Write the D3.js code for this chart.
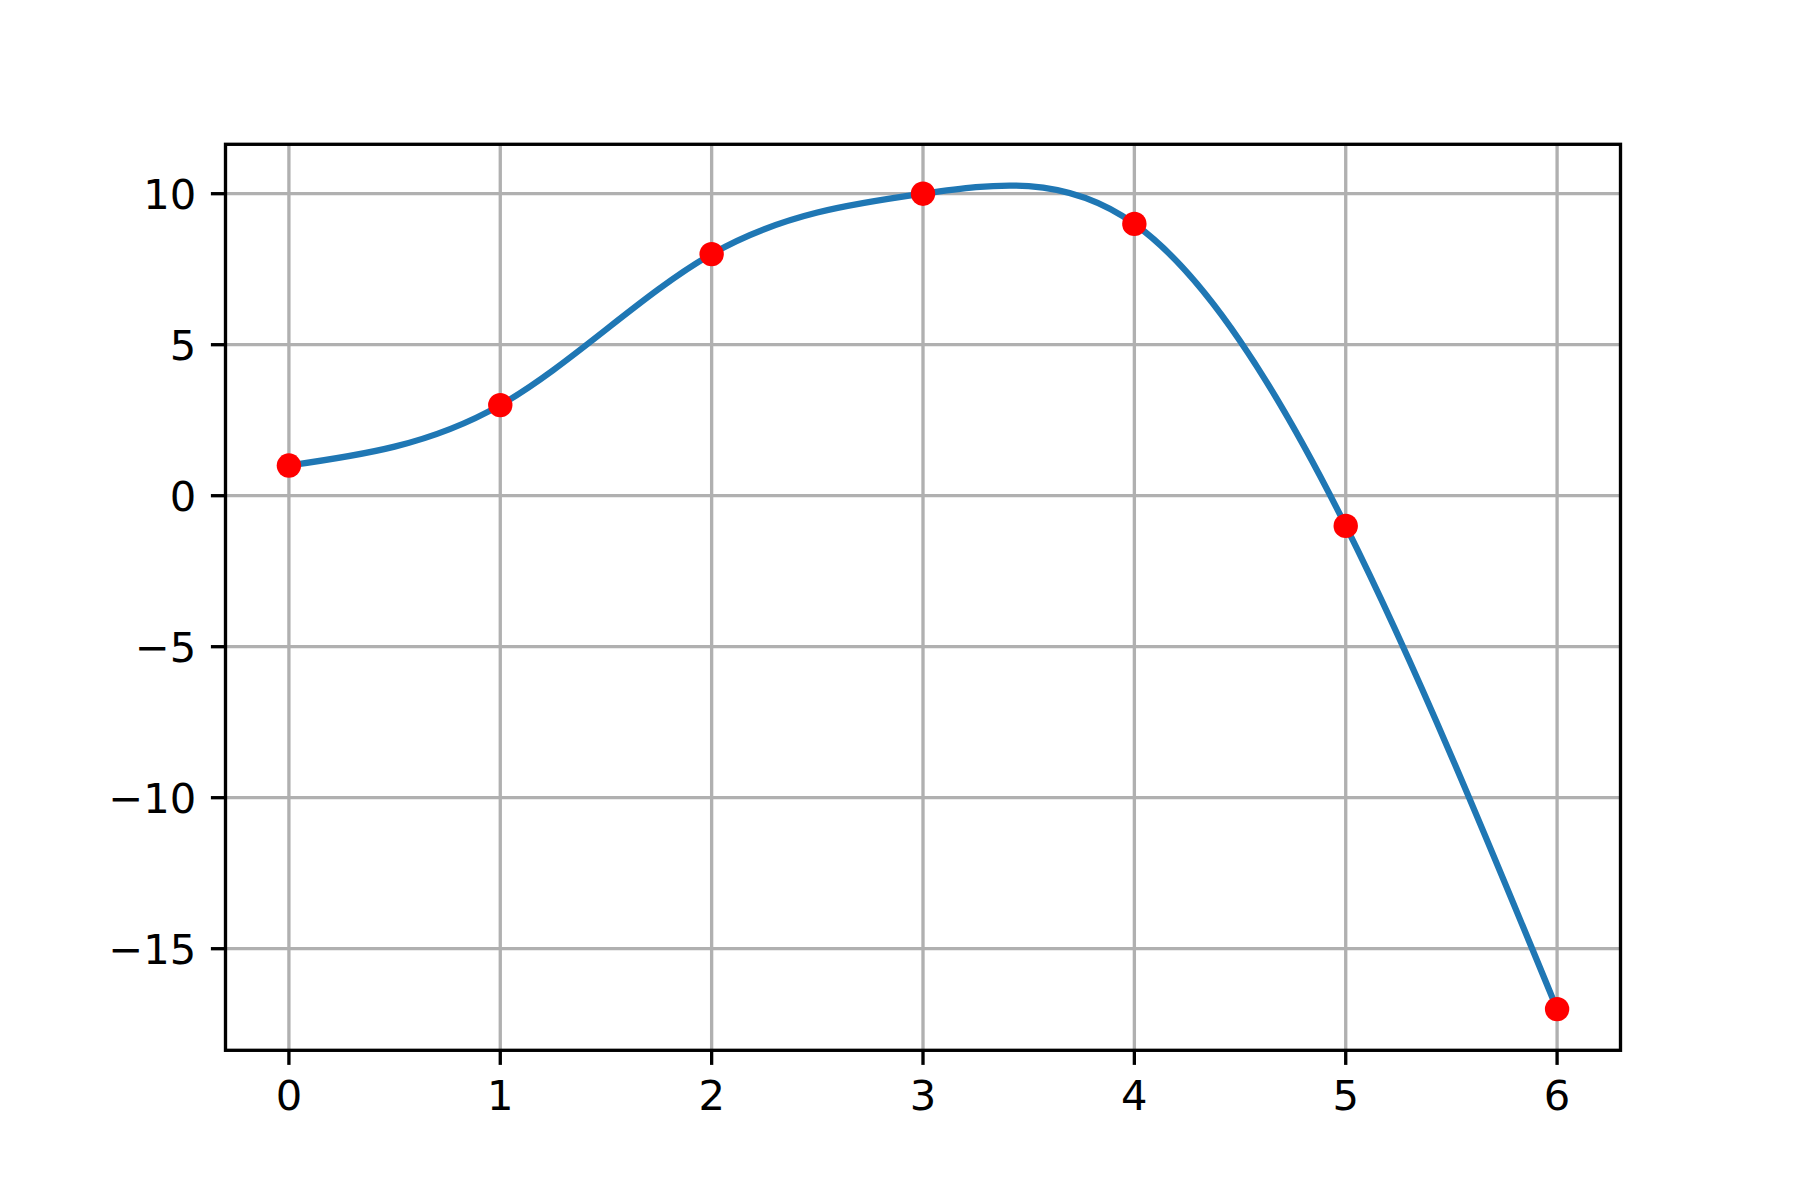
<!DOCTYPE html>
<html>
<head>
<meta charset="utf-8">
<script src="https://cdn.jsdelivr.net/npm/d3@7"></script>
<style>
  html, body { margin: 0; padding: 0; background: #fff; }
  svg { display: block; }
  text { font-family: "DejaVu Sans", sans-serif; }
</style>
</head>
<body>
<svg id="chart" width="1800" height="1200"></svg>
<script>
// Data
const xValues = [0, 1, 2, 3, 4, 5, 6];
const yValues = [1, 3, 8, 10, 9, -1, -17];
const xTicks = [0, 1, 2, 3, 4, 5, 6];
const yTicks = [-15, -10, -5, 0, 5, 10];
const xLimits = [-0.3, 6.3];
const yLimits = [-18.364, 11.636];

(function () {
const W = 1800, H = 1200;
const pLeft = 225.5, pRight = 1620.5, pTop = 144.3, pBottom = 1050.3;

const svg = d3.select("#chart");
svg.append("rect").attr("width", W).attr("height", H).attr("fill", "#fff");

const x = d3.scaleLinear().domain(xLimits).range([pLeft, pRight]);
const y = d3.scaleLinear().domain(yLimits).range([pBottom, pTop]);

const fontSize = 41.67;
const tickLen = 14.6;
const lw = 3.33;
const fmt = v => (v < 0 ? "\u2212" + Math.abs(v) : String(v));

// Grid
const grid = svg.append("g");
grid.selectAll(".gx").data(xTicks).enter().append("line")
  .attr("x1", d => x(d)).attr("x2", d => x(d))
  .attr("y1", pTop).attr("y2", pBottom)
  .attr("stroke", "#b0b0b0").attr("stroke-width", lw);
grid.selectAll(".gy").data(yTicks).enter().append("line")
  .attr("x1", pLeft).attr("x2", pRight)
  .attr("y1", d => y(d)).attr("y2", d => y(d))
  .attr("stroke", "#b0b0b0").attr("stroke-width", lw);

// Spline curve (natural cubic spline through the points)
const pts = xValues.map((v, i) => [v, yValues[i]]);
const line = d3.line().x(d => x(d[0])).y(d => y(d[1])).curve(d3.curveNatural);
svg.append("path").datum(pts)
  .attr("d", line)
  .attr("fill", "none")
  .attr("stroke", "#1f77b4")
  .attr("stroke-width", 6.25)
  .attr("stroke-linecap", "square")
  .attr("stroke-linejoin", "round");

// Markers
svg.append("g").selectAll("circle").data(pts).enter().append("circle")
  .attr("cx", d => x(d[0])).attr("cy", d => y(d[1]))
  .attr("r", 12.2).attr("fill", "#ff0000");

// Frame
svg.append("rect")
  .attr("x", pLeft).attr("y", pTop)
  .attr("width", pRight - pLeft).attr("height", pBottom - pTop)
  .attr("fill", "none").attr("stroke", "#000").attr("stroke-width", lw)
  .attr("stroke-linejoin", "miter");

// X axis ticks
const xa = svg.append("g");
xa.selectAll("line").data(xTicks).enter().append("line")
  .attr("x1", d => x(d)).attr("x2", d => x(d))
  .attr("y1", pBottom).attr("y2", pBottom + tickLen)
  .attr("stroke", "#000").attr("stroke-width", lw);
xa.selectAll("text").data(xTicks).enter().append("text")
  .attr("x", d => x(d)).attr("y", 1110)
  .attr("text-anchor", "middle")
  .attr("font-size", fontSize)
  .attr("fill", "#000")
  .text(fmt);

// Y axis ticks
const ya = svg.append("g");
ya.selectAll("line").data(yTicks).enter().append("line")
  .attr("x1", pLeft - tickLen).attr("x2", pLeft)
  .attr("y1", d => y(d)).attr("y2", d => y(d))
  .attr("stroke", "#000").attr("stroke-width", lw);
ya.selectAll("text").data(yTicks).enter().append("text")
  .attr("x", pLeft - 2 * tickLen).attr("y", d => y(d) + 15.2)
  .attr("text-anchor", "end")
  .attr("font-size", fontSize)
  .attr("fill", "#000")
  .text(fmt);
})();
</script>
</body>
</html>
